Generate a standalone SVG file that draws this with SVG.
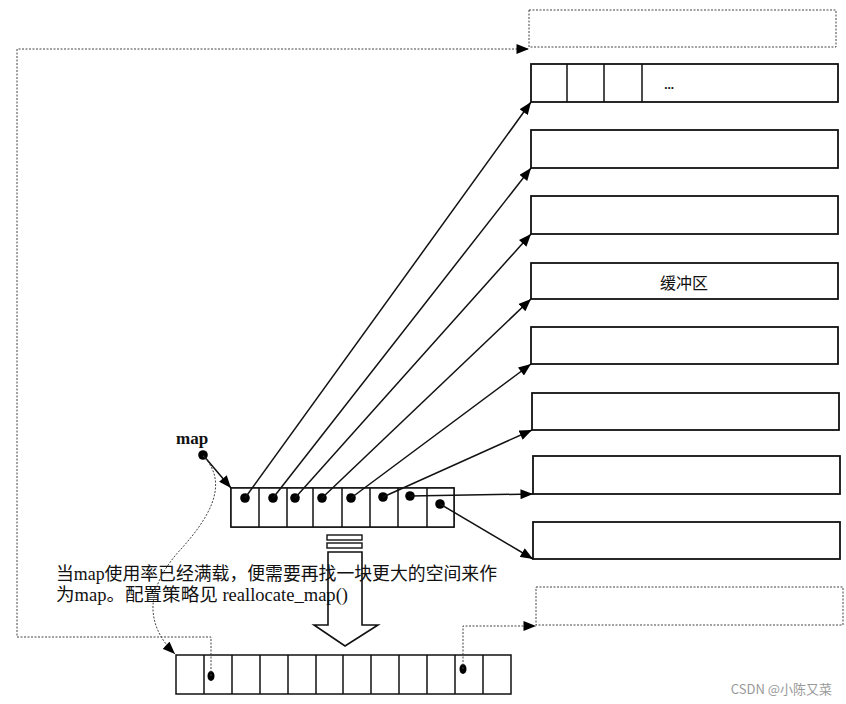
<svg xmlns="http://www.w3.org/2000/svg" width="846" height="704" viewBox="0 0 846 704">
<style>
.box{fill:#fff;stroke:#111;stroke-width:1.8}
.dbox{fill:none;stroke:#444;stroke-width:1;stroke-dasharray:2,1.5}
.cell{fill:#fff;stroke:#111;stroke-width:1.5}
.line{fill:none;stroke:#111;stroke-width:1.5}
.dline{fill:none;stroke:#444;stroke-width:1;stroke-dasharray:2,1.5}
.dot{fill:#000}
.cjk{font-family:"Liberation Serif","Noto Sans CJK SC",serif;font-size:18px;fill:#111}
</style>
<defs>
<marker id="ah" viewBox="0 0 10 8" refX="10" refY="4" markerWidth="13" markerHeight="10" orient="auto" markerUnits="userSpaceOnUse"><path d="M0,0 L10,4 L0,8 z" fill="#000"/></marker>
</defs>
<rect width="846" height="704" fill="#fff"/>

<g id="buf0"><rect class="dbox" x="529" y="10" width="307" height="37"/></g>
<g id="buf1"><rect class="box" x="531" y="64" width="307" height="38"/>
<line class="line" x1="567" y1="64" x2="567" y2="102"/><line class="line" x1="604" y1="64" x2="604" y2="102"/><line class="line" x1="642" y1="64" x2="642" y2="102"/>
<text x="669" y="89" font-family="Liberation Serif,serif" font-size="13" font-weight="bold" text-anchor="middle" fill="#111">...</text></g>
<g id="buf2"><rect class="box" x="531" y="130" width="307" height="38"/></g>
<g id="buf3"><rect class="box" x="531" y="196" width="307" height="38"/></g>
<g id="buf4"><rect class="box" x="531" y="263" width="307" height="36"/>
<text x="684" y="289" font-family="Noto Sans CJK SC,sans-serif" font-size="16" text-anchor="middle" fill="#111">缓冲区</text></g>
<g id="buf5"><rect class="box" x="531" y="327" width="307" height="37"/></g>
<g id="buf6"><rect class="box" x="532" y="393" width="307" height="37"/></g>
<g id="buf7"><rect class="box" x="533" y="456" width="307" height="38"/></g>
<g id="buf8"><rect class="box" x="533" y="522" width="307" height="37"/></g>
<g id="buf9"><rect class="dbox" x="536" y="587" width="307" height="38"/></g>

<g id="map-label"><text x="176" y="444" font-family="Liberation Serif,serif" font-size="17" font-weight="bold" fill="#111">map</text>
<circle class="dot" cx="203" cy="455" r="4.8"/></g>

<g id="map-array">
<rect class="cell" x="231" y="488" width="223" height="39"/>
<rect x="286.7" y="488.7" width="26.6" height="37.6" fill="#f4f4f4"/>
<rect x="370" y="488.7" width="83.3" height="37.6" fill="#ececec"/>
<rect class="cell" x="231" y="488" width="223" height="39" fill="none"/>
<line class="line" x1="259" y1="488" x2="259" y2="527"/><line class="line" x1="287" y1="488" x2="287" y2="527"/><line class="line" x1="313" y1="488" x2="313" y2="527"/><line class="line" x1="342" y1="488" x2="342" y2="527"/><line class="line" x1="370" y1="488" x2="370" y2="527"/><line class="line" x1="398" y1="488" x2="398" y2="527"/><line class="line" x1="427" y1="488" x2="427" y2="527"/>
<circle class="dot" cx="245" cy="498" r="4.8"/><circle class="dot" cx="273" cy="498" r="4.8"/><circle class="dot" cx="295" cy="498" r="4.8"/><circle class="dot" cx="322" cy="498" r="4.8"/><circle class="dot" cx="351" cy="498" r="4.8"/><circle class="dot" cx="383" cy="497" r="4.8"/><circle class="dot" cx="410" cy="496" r="4.8"/><circle class="dot" cx="440" cy="504" r="4.8"/>
</g>

<g id="big-arrow">
<rect x="327" y="535" width="35" height="5" fill="#fff" stroke="#111" stroke-width="1.4"/>
<rect x="327" y="543" width="35" height="5" fill="#fff" stroke="#111" stroke-width="1.4"/>
<path d="M328,552 L362,552 L362,625 L378,625 L345,646 L314,625 L328,625 Z" fill="#fff" stroke="#111" stroke-width="1.6"/>
</g>

<g id="note">
<text class="cjk" x="56" y="580" textLength="441" lengthAdjust="spacingAndGlyphs">当map使用率已经满载，便需要再找一块更大的空间来作</text>
<text class="cjk" x="56" y="601" textLength="292" lengthAdjust="spacingAndGlyphs">为map。配置策略见 reallocate_map()</text>
</g>

<g id="new-map">
<rect class="cell" x="176" y="655" width="335" height="39"/>
<line class="line" x1="204" y1="655" x2="204" y2="694"/><line class="line" x1="232" y1="655" x2="232" y2="694"/><line class="line" x1="260" y1="655" x2="260" y2="694"/><line class="line" x1="288" y1="655" x2="288" y2="694"/><line class="line" x1="316" y1="655" x2="316" y2="694"/><line class="line" x1="343" y1="655" x2="343" y2="694"/><line class="line" x1="371" y1="655" x2="371" y2="694"/><line class="line" x1="399" y1="655" x2="399" y2="694"/><line class="line" x1="427" y1="655" x2="427" y2="694"/><line class="line" x1="455" y1="655" x2="455" y2="694"/><line class="line" x1="483" y1="655" x2="483" y2="694"/>
<ellipse class="dot" cx="211" cy="676" rx="3.5" ry="5"/>
<ellipse class="dot" cx="463" cy="669" rx="3.5" ry="5"/>
</g>

<g id="connectors">
<line class="line" x1="245" y1="498" x2="531" y2="102" marker-end="url(#ah)"/>
<line class="line" x1="273" y1="498" x2="531" y2="168" marker-end="url(#ah)"/>
<line class="line" x1="295" y1="498" x2="531" y2="234" marker-end="url(#ah)"/>
<line class="line" x1="322" y1="498" x2="531" y2="299" marker-end="url(#ah)"/>
<line class="line" x1="351" y1="498" x2="531" y2="364" marker-end="url(#ah)"/>
<line class="line" x1="383" y1="497" x2="532" y2="430" marker-end="url(#ah)"/>
<line class="line" x1="410" y1="496" x2="533" y2="494" marker-end="url(#ah)"/>
<line class="line" x1="440" y1="504" x2="533" y2="559" marker-end="url(#ah)"/>
<line class="line" x1="203" y1="455" x2="231" y2="488" stroke-width="1.8" marker-end="url(#ah)"/>
<path class="dline" d="M203,456 C232,485 205,522 182,548 C150,582 140,620 175,654" marker-end="url(#ah)"/>
<path class="dline" d="M211,676 L211,637 L17,637 L17,49 L529,49" marker-end="url(#ah)"/>
<path class="dline" d="M463,669 L463,626 L536,626" marker-end="url(#ah)"/>
</g>

<text x="832" y="694" font-family="Noto Sans CJK SC,sans-serif" font-size="13" text-anchor="end" fill="#999">CSDN @小陈又菜</text>
</svg>
